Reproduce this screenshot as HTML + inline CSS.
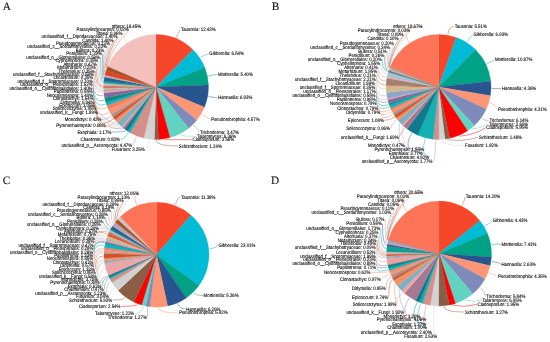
<!DOCTYPE html>
<html><head><meta charset="utf-8"><title>Pie charts</title>
<style>html,body{margin:0;padding:0;background:#fff;overflow:hidden}svg{display:block}</style>
</head><body>
<svg width="550" height="342" viewBox="0 0 550 342" font-family="'Liberation Sans', Arial, sans-serif" text-rendering="geometricPrecision">
<defs><filter id="tb" x="-5%" y="-20%" width="110%" height="140%"><feGaussianBlur stdDeviation="0.28"/></filter></defs>
<rect width="550" height="342" fill="#fff"/>
<g><path d="M156.00,87.00L156.00,34.50A52.5,52.5 0 0 1 192.96,49.72Z" fill="#F6472A" stroke="#F6472A" stroke-width="0.3"/><path d="M156.00,87.00L192.96,49.72A52.5,52.5 0 0 1 204.78,67.58Z" fill="#00BBD6" stroke="#00BBD6" stroke-width="0.3"/><path d="M156.00,87.00L204.78,67.58A52.5,52.5 0 0 1 208.46,84.93Z" fill="#00A185" stroke="#00A185" stroke-width="0.3"/><path d="M156.00,87.00L208.46,84.93A52.5,52.5 0 0 1 204.44,107.25Z" fill="#28548F" stroke="#28548F" stroke-width="0.3"/><path d="M156.00,87.00L204.44,107.25A52.5,52.5 0 0 1 196.72,120.14Z" fill="#FC9676" stroke="#FC9676" stroke-width="0.3"/><path d="M156.00,87.00L196.72,120.14A52.5,52.5 0 0 1 188.59,128.16Z" fill="#7E8ABA" stroke="#7E8ABA" stroke-width="0.3"/><path d="M156.00,87.00L188.59,128.16A52.5,52.5 0 0 1 170.01,137.60Z" fill="#62D3C0" stroke="#62D3C0" stroke-width="0.3"/><path d="M156.00,87.00L170.01,137.60A52.5,52.5 0 0 1 158.43,139.44Z" fill="#FA0303" stroke="#FA0303" stroke-width="0.3"/><path d="M156.00,87.00L158.43,139.44A52.5,52.5 0 0 1 154.34,139.47Z" fill="#8A5D44" stroke="#8A5D44" stroke-width="0.3"/><path d="M156.00,87.00L154.34,139.47A52.5,52.5 0 0 1 143.74,138.05Z" fill="#D2D2D2" stroke="#D2D2D2" stroke-width="0.3"/><path d="M156.00,87.00L143.74,138.05A52.5,52.5 0 0 1 130.07,132.65Z" fill="#D48F8A" stroke="#D48F8A" stroke-width="0.3"/><path d="M156.00,87.00L130.07,132.65A52.5,52.5 0 0 1 127.72,131.23Z" fill="#14B1B3" stroke="#14B1B3" stroke-width="0.3"/><path d="M156.00,87.00L127.72,131.23A52.5,52.5 0 0 1 124.55,129.04Z" fill="#10798B" stroke="#10798B" stroke-width="0.3"/><path d="M156.00,87.00L124.55,129.04A52.5,52.5 0 0 1 122.78,127.66Z" fill="#A67891" stroke="#A67891" stroke-width="0.3"/><path d="M156.00,87.00L122.78,127.66A52.5,52.5 0 0 1 121.72,126.77Z" fill="#EBA7A7" stroke="#EBA7A7" stroke-width="0.3"/><path d="M156.00,87.00L121.72,126.77A52.5,52.5 0 0 1 117.25,122.42Z" fill="#7EB0C3" stroke="#7EB0C3" stroke-width="0.3"/><path d="M156.00,87.00L117.25,122.42A52.5,52.5 0 0 1 115.00,119.79Z" fill="#EF936A" stroke="#EF936A" stroke-width="0.3"/><path d="M156.00,87.00L115.00,119.79A52.5,52.5 0 0 1 112.92,117.00Z" fill="#D4502A" stroke="#D4502A" stroke-width="0.3"/><path d="M156.00,87.00L112.92,117.00A52.5,52.5 0 0 1 111.23,114.42Z" fill="#A89189" stroke="#A89189" stroke-width="0.3"/><path d="M156.00,87.00L111.23,114.42A52.5,52.5 0 0 1 108.65,109.67Z" fill="#F59478" stroke="#F59478" stroke-width="0.3"/><path d="M156.00,87.00L108.65,109.67A52.5,52.5 0 0 1 106.83,105.41Z" fill="#F5805F" stroke="#F5805F" stroke-width="0.3"/><path d="M156.00,87.00L106.83,105.41A52.5,52.5 0 0 1 105.84,102.49Z" fill="#14B0C0" stroke="#14B0C0" stroke-width="0.3"/><path d="M156.00,87.00L105.84,102.49A52.5,52.5 0 0 1 104.67,98.01Z" fill="#0D8C80" stroke="#0D8C80" stroke-width="0.3"/><path d="M156.00,87.00L104.67,98.01A52.5,52.5 0 0 1 103.85,93.06Z" fill="#7E6AA0" stroke="#7E6AA0" stroke-width="0.3"/><path d="M156.00,87.00L103.85,93.06A52.5,52.5 0 0 1 103.63,90.75Z" fill="#E9A2A2" stroke="#E9A2A2" stroke-width="0.3"/><path d="M156.00,87.00L103.63,90.75A52.5,52.5 0 0 1 103.56,89.60Z" fill="#90A8C8" stroke="#90A8C8" stroke-width="0.3"/><path d="M156.00,87.00L103.56,89.60A52.5,52.5 0 0 1 103.50,87.67Z" fill="#D0B890" stroke="#D0B890" stroke-width="0.3"/><path d="M156.00,87.00L103.50,87.67A52.5,52.5 0 0 1 103.50,86.51Z" fill="#E8502A" stroke="#E8502A" stroke-width="0.3"/><path d="M156.00,87.00L103.50,86.51A52.5,52.5 0 0 1 103.52,85.74Z" fill="#A08070" stroke="#A08070" stroke-width="0.3"/><path d="M156.00,87.00L103.52,85.74A52.5,52.5 0 0 1 103.58,84.19Z" fill="#E8A0A0" stroke="#E8A0A0" stroke-width="0.3"/><path d="M156.00,87.00L103.58,84.19A52.5,52.5 0 0 1 103.65,83.04Z" fill="#A8C0D0" stroke="#A8C0D0" stroke-width="0.3"/><path d="M156.00,87.00L103.65,83.04A52.5,52.5 0 0 1 103.83,81.12Z" fill="#10A090" stroke="#10A090" stroke-width="0.3"/><path d="M156.00,87.00L103.83,81.12A52.5,52.5 0 0 1 104.48,76.92Z" fill="#1E6496" stroke="#1E6496" stroke-width="0.3"/><path d="M156.00,87.00L104.48,76.92A52.5,52.5 0 0 1 104.63,76.17Z" fill="#F8977D" stroke="#F8977D" stroke-width="0.3"/><path d="M156.00,87.00L104.63,76.17A52.5,52.5 0 0 1 104.79,75.41Z" fill="#A8A0C8" stroke="#A8A0C8" stroke-width="0.3"/><path d="M156.00,87.00L104.79,75.41A52.5,52.5 0 0 1 104.88,75.04Z" fill="#7DD6C4" stroke="#7DD6C4" stroke-width="0.3"/><path d="M156.00,87.00L104.88,75.04A52.5,52.5 0 0 1 106.13,70.58Z" fill="#E8401F" stroke="#E8401F" stroke-width="0.3"/><path d="M156.00,87.00L106.13,70.58A52.5,52.5 0 0 1 107.78,66.25Z" fill="#A0522D" stroke="#A0522D" stroke-width="0.3"/><path d="M156.00,87.00L107.78,66.25A52.5,52.5 0 0 1 107.85,66.07Z" fill="#CCC4BC" stroke="#CCC4BC" stroke-width="0.3"/><path d="M156.00,87.00L107.85,66.07A52.5,52.5 0 0 1 107.88,66.00Z" fill="#FD7459" stroke="#FD7459" stroke-width="0.3"/><path d="M156.00,87.00L107.88,66.00A52.5,52.5 0 0 1 156.00,34.50Z" fill="#F3C0BC" stroke="#F3C0BC" stroke-width="0.3"/></g><g fill="none" stroke-width="0.55" stroke-opacity="0.9"><path d="M180.30,29.85Q179.53,29.85 176.33,37.62" stroke="#F6472A"/><path d="M208.60,53.95Q205.98,53.95 200.54,57.54" stroke="#00BBD6"/><path d="M217.20,74.45Q215.12,74.45 208.24,75.91" stroke="#00A185"/><path d="M217.30,97.85Q216.24,97.85 208.55,96.47" stroke="#28548F"/><path d="M210.30,119.05Q209.53,119.05 201.82,114.43" stroke="#FC9676"/><path d="M199.30,132.05Q199.30,130.88 193.51,125.01" stroke="#7E8ABA"/><path d="M196.30,136.35Q181.06,136.35 180.18,134.61" stroke="#62D3C0"/><path d="M191.90,139.75Q164.42,139.75 164.41,139.73" stroke="#FA0303"/><path d="M178.10,146.05Q156.44,146.05 156.40,140.40" stroke="#8A5D44"/><path d="M145.20,149.45Q147.60,149.45 148.88,139.92" stroke="#D2D2D2"/><path d="M132.85,145.85Q132.85,145.61 136.38,136.67" stroke="#D48F8A"/><path d="M120.61,139.25Q124.49,139.25 128.42,132.73" stroke="#14B1B3"/><path d="M111.95,132.05Q124.81,132.05 125.60,130.91" stroke="#10798B"/><path d="M106.32,125.65Q114.30,129.37 123.11,129.07" stroke="#A67891"/><path d="M102.12,119.45Q110.88,126.02 121.67,127.90" stroke="#EBA7A7"/><path d="M98.48,112.35Q107.08,121.27 118.80,125.31" stroke="#7EB0C3"/><path d="M97.10,108.91Q97.10,137.38 115.42,121.71" stroke="#EF936A"/><path d="M95.94,105.46Q95.94,131.84 113.21,118.95" stroke="#D4502A"/><path d="M95.00,102.02Q95.00,126.87 111.30,116.22" stroke="#A89189"/><path d="M94.26,98.57Q94.26,120.57 109.09,112.51" stroke="#F59478"/><path d="M93.72,95.13Q93.72,113.51 106.87,107.91" stroke="#F5805F"/><path d="M93.37,91.69Q93.37,108.37 105.46,104.25" stroke="#14B0C0"/><path d="M93.21,88.24Q93.21,103.39 104.33,100.49" stroke="#0D8C80"/><path d="M93.24,84.80Q93.24,97.35 103.31,95.69" stroke="#7E6AA0"/><path d="M93.45,81.35Q93.45,92.87 102.83,91.99" stroke="#E9A2A2"/><path d="M93.85,77.91Q93.85,90.76 102.70,90.23" stroke="#90A8C8"/><path d="M94.45,74.47Q94.45,88.91 102.63,88.66" stroke="#D0B890"/><path d="M95.24,71.02Q95.24,87.10 102.60,87.09" stroke="#E8502A"/><path d="M96.24,67.58Q96.24,86.00 102.61,86.11" stroke="#A08070"/><path d="M97.46,64.13Q97.46,84.73 102.64,84.93" stroke="#E8A0A0"/><path d="M98.91,60.69Q98.91,83.31 102.71,83.56" stroke="#A8C0D0"/><path d="M100.60,57.25Q100.60,81.78 102.84,81.99" stroke="#10A090"/><path d="M102.57,53.80Q102.57,78.78 103.22,78.88" stroke="#1E6496"/><path d="M104.84,50.36Q101.13,63.22 103.67,76.36" stroke="#F8977D"/><path d="M107.45,46.91Q102.20,60.82 103.83,75.60" stroke="#A8A0C8"/><path d="M110.47,43.47Q103.43,58.47 103.96,75.02" stroke="#7DD6C4"/><path d="M113.97,40.03Q105.38,55.16 104.59,72.55" stroke="#E8401F"/><path d="M118.10,36.58Q108.30,50.89 106.07,68.08" stroke="#A0522D"/><path d="M123.07,33.14Q111.11,47.54 106.99,65.80" stroke="#CCC4BC"/><path d="M129.35,29.69Q113.88,45.01 107.04,65.68" stroke="#FD7459"/><path d="M141.70,26.25Q116.23,26.25 126.75,42.32" stroke="#F3C0BC"/></g><g filter="url(#tb)"><g transform="scale(1,1.15)" font-size="4.35" fill="#000" stroke="#000" stroke-width="0.09"><text x="181.00" y="27.304" text-anchor="start">Tausonia: 12.43%</text><text x="209.30" y="48.261" text-anchor="start">Gibberella: 6.54%</text><text x="217.90" y="66.087" text-anchor="start">Mortierella: 5.40%</text><text x="218.00" y="86.435" text-anchor="start">Hannaella: 6.93%</text><text x="211.00" y="104.870" text-anchor="start">Pseudombrophila: 4.57%</text><text x="200.00" y="116.174" text-anchor="start">Trichoderma: 3.47%</text><text x="197.00" y="119.913" text-anchor="start">Talaromyces: 6.36%</text><text x="192.60" y="122.870" text-anchor="start">Cladosporium: 3.56%</text><text x="178.80" y="128.348" text-anchor="start">Schizothecium: 1.24%</text><text x="144.50" y="131.304" text-anchor="end">Fusarium: 3.25%</text><text x="132.15" y="128.174" text-anchor="end">unclassified_p__Ascomycota: 4.47%</text><text x="119.91" y="122.435" text-anchor="end">Chaetomium: 0.83%</text><text x="111.25" y="116.174" text-anchor="end">Exophiala: 1.17%</text><text x="105.62" y="110.609" text-anchor="end">Pyrenochaetopsis: 0.68%</text><text x="101.42" y="105.217" text-anchor="end">Monodictys: 0.42%</text><text x="97.78" y="99.043" text-anchor="end">unclassified_k__Fungi: 1.89%</text><text x="96.40" y="96.049" text-anchor="end">Solicoccozyma: 1.05%</text><text x="95.24" y="93.054" text-anchor="end">Epicoccum: 1.05%</text><text x="94.30" y="90.059" text-anchor="end">Didymella: 0.94%</text><text x="93.56" y="87.064" text-anchor="end">Clonostachys: 1.64%</text><text x="93.02" y="84.070" text-anchor="end">Neocosmospora: 1.40%</text><text x="92.67" y="81.075" text-anchor="end">Papiliotrema: 0.94%</text><text x="92.51" y="78.080" text-anchor="end">unclassified_o__Cystofilobasidiales: 1.40%</text><text x="92.54" y="75.085" text-anchor="end">unclassified_o__Pleosporales: 1.52%</text><text x="92.75" y="72.090" text-anchor="end">unclassified_f__Sporormiaceae: 0.70%</text><text x="93.15" y="69.096" text-anchor="end">Lecanicillium: 0.35%</text><text x="93.75" y="66.101" text-anchor="end">unclassified_f__Stachybotryaceae: 0.58%</text><text x="94.54" y="63.106" text-anchor="end">Thelebolus: 0.35%</text><text x="95.54" y="60.111" text-anchor="end">Metarhizium: 0.23%</text><text x="96.76" y="57.117" text-anchor="end">Alternaria: 0.47%</text><text x="98.21" y="54.122" text-anchor="end">Cyphellophora: 0.35%</text><text x="99.90" y="51.127" text-anchor="end">unclassified_o__Glomerellales: 0.58%</text><text x="101.87" y="48.132" text-anchor="end">Penicillium: 1.29%</text><text x="104.14" y="45.137" text-anchor="end">Bullera: 0.23%</text><text x="106.75" y="42.143" text-anchor="end">unclassified_c__Sordariomycetes: 0.23%</text><text x="109.77" y="39.148" text-anchor="end">Pseudogymnoascus: 0.12%</text><text x="113.27" y="36.153" text-anchor="end">Candida: 1.40%</text><text x="117.40" y="33.158" text-anchor="end">unclassified_f__Dipodascaceae: 1.40%</text><text x="122.37" y="30.163" text-anchor="end">Titaea: 0.06%</text><text x="128.65" y="27.169" text-anchor="end">Paracylindrocarpon: 0.02%</text><text x="141.00" y="24.174" text-anchor="end">others: 18.45%</text></g></g><g><path d="M438.60,87.00L438.60,34.50A52.5,52.5 0 0 1 456.39,37.61Z" fill="#F6472A" stroke="#F6472A" stroke-width="0.3"/><path d="M438.60,87.00L456.39,37.61A52.5,52.5 0 0 1 475.55,49.70Z" fill="#00BBD6" stroke="#00BBD6" stroke-width="0.3"/><path d="M438.60,87.00L475.55,49.70A52.5,52.5 0 0 1 490.79,81.34Z" fill="#00A185" stroke="#00A185" stroke-width="0.3"/><path d="M438.60,87.00L490.79,81.34A52.5,52.5 0 0 1 490.38,95.66Z" fill="#28548F" stroke="#28548F" stroke-width="0.3"/><path d="M438.60,87.00L490.38,95.66A52.5,52.5 0 0 1 486.19,109.18Z" fill="#FC9676" stroke="#FC9676" stroke-width="0.3"/><path d="M438.60,87.00L486.19,109.18A52.5,52.5 0 0 1 474.36,125.44Z" fill="#7E8ABA" stroke="#7E8ABA" stroke-width="0.3"/><path d="M438.60,87.00L474.36,125.44A52.5,52.5 0 0 1 467.64,130.74Z" fill="#62D3C0" stroke="#62D3C0" stroke-width="0.3"/><path d="M438.60,87.00L467.64,130.74A52.5,52.5 0 0 1 449.69,138.32Z" fill="#FA0303" stroke="#FA0303" stroke-width="0.3"/><path d="M438.60,87.00L449.69,138.32A52.5,52.5 0 0 1 444.88,139.12Z" fill="#8A5D44" stroke="#8A5D44" stroke-width="0.3"/><path d="M438.60,87.00L444.88,139.12A52.5,52.5 0 0 1 438.90,139.50Z" fill="#D2D2D2" stroke="#D2D2D2" stroke-width="0.3"/><path d="M438.60,87.00L438.90,139.50A52.5,52.5 0 0 1 433.08,139.21Z" fill="#D48F8A" stroke="#D48F8A" stroke-width="0.3"/><path d="M438.60,87.00L433.08,139.21A52.5,52.5 0 0 1 417.77,135.19Z" fill="#14B1B3" stroke="#14B1B3" stroke-width="0.3"/><path d="M438.60,87.00L417.77,135.19A52.5,52.5 0 0 1 407.06,128.97Z" fill="#10798B" stroke="#10798B" stroke-width="0.3"/><path d="M438.60,87.00L407.06,128.97A52.5,52.5 0 0 1 403.13,125.71Z" fill="#A67891" stroke="#A67891" stroke-width="0.3"/><path d="M438.60,87.00L403.13,125.71A52.5,52.5 0 0 1 402.00,124.64Z" fill="#EBA7A7" stroke="#EBA7A7" stroke-width="0.3"/><path d="M438.60,87.00L402.00,124.64A52.5,52.5 0 0 1 398.23,120.56Z" fill="#7EB0C3" stroke="#7EB0C3" stroke-width="0.3"/><path d="M438.60,87.00L398.23,120.56A52.5,52.5 0 0 1 396.28,118.07Z" fill="#EF936A" stroke="#EF936A" stroke-width="0.3"/><path d="M438.60,87.00L396.28,118.07A52.5,52.5 0 0 1 394.27,115.13Z" fill="#D4502A" stroke="#D4502A" stroke-width="0.3"/><path d="M438.60,87.00L394.27,115.13A52.5,52.5 0 0 1 392.93,112.90Z" fill="#A89189" stroke="#A89189" stroke-width="0.3"/><path d="M438.60,87.00L392.93,112.90A52.5,52.5 0 0 1 391.70,110.60Z" fill="#F59478" stroke="#F59478" stroke-width="0.3"/><path d="M438.60,87.00L391.70,110.60A52.5,52.5 0 0 1 390.59,108.25Z" fill="#F5805F" stroke="#F5805F" stroke-width="0.3"/><path d="M438.60,87.00L390.59,108.25A52.5,52.5 0 0 1 389.38,105.26Z" fill="#14B0C0" stroke="#14B0C0" stroke-width="0.3"/><path d="M438.60,87.00L389.38,105.26A52.5,52.5 0 0 1 388.78,103.55Z" fill="#0D8C80" stroke="#0D8C80" stroke-width="0.3"/><path d="M438.60,87.00L388.78,103.55A52.5,52.5 0 0 1 387.70,99.85Z" fill="#7E6AA0" stroke="#7E6AA0" stroke-width="0.3"/><path d="M438.60,87.00L387.70,99.85A52.5,52.5 0 0 1 387.43,98.73Z" fill="#E9A2A2" stroke="#E9A2A2" stroke-width="0.3"/><path d="M438.60,87.00L387.43,98.73A52.5,52.5 0 0 1 386.40,92.59Z" fill="#90A8C8" stroke="#90A8C8" stroke-width="0.3"/><path d="M438.60,87.00L386.40,92.59A52.5,52.5 0 0 1 386.13,85.32Z" fill="#D0B890" stroke="#D0B890" stroke-width="0.3"/><path d="M438.60,87.00L386.13,85.32A52.5,52.5 0 0 1 386.15,84.63Z" fill="#E8502A" stroke="#E8502A" stroke-width="0.3"/><path d="M438.60,87.00L386.15,84.63A52.5,52.5 0 0 1 386.84,78.24Z" fill="#A08070" stroke="#A08070" stroke-width="0.3"/><path d="M438.60,87.00L386.84,78.24A52.5,52.5 0 0 1 387.08,76.92Z" fill="#E8A0A0" stroke="#E8A0A0" stroke-width="0.3"/><path d="M438.60,87.00L387.08,76.92A52.5,52.5 0 0 1 388.30,71.96Z" fill="#A8C0D0" stroke="#A8C0D0" stroke-width="0.3"/><path d="M438.60,87.00L388.30,71.96A52.5,52.5 0 0 1 388.49,71.33Z" fill="#10A090" stroke="#10A090" stroke-width="0.3"/><path d="M438.60,87.00L388.49,71.33A52.5,52.5 0 0 1 388.76,70.51Z" fill="#1E6496" stroke="#1E6496" stroke-width="0.3"/><path d="M438.60,87.00L388.76,70.51A52.5,52.5 0 0 1 389.31,68.93Z" fill="#F8977D" stroke="#F8977D" stroke-width="0.3"/><path d="M438.60,87.00L389.31,68.93A52.5,52.5 0 0 1 389.71,67.88Z" fill="#A8A0C8" stroke="#A8A0C8" stroke-width="0.3"/><path d="M438.60,87.00L389.71,67.88A52.5,52.5 0 0 1 389.95,67.27Z" fill="#7DD6C4" stroke="#7DD6C4" stroke-width="0.3"/><path d="M438.60,87.00L389.95,67.27A52.5,52.5 0 0 1 390.07,66.96Z" fill="#E8401F" stroke="#E8401F" stroke-width="0.3"/><path d="M438.60,87.00L390.07,66.96A52.5,52.5 0 0 1 390.19,66.69Z" fill="#A0522D" stroke="#A0522D" stroke-width="0.3"/><path d="M438.60,87.00L390.19,66.69A52.5,52.5 0 0 1 390.23,66.60Z" fill="#CCC4BC" stroke="#CCC4BC" stroke-width="0.3"/><path d="M438.60,87.00L390.23,66.60A52.5,52.5 0 0 1 438.60,34.50Z" fill="#FD7459" stroke="#FD7459" stroke-width="0.3"/></g><g fill="none" stroke-width="0.55" stroke-opacity="0.9"><path d="M454.00,26.45Q449.17,26.45 447.79,34.40" stroke="#F6472A"/><path d="M472.70,34.85Q471.53,34.85 467.11,41.85" stroke="#00BBD6"/><path d="M494.20,59.65Q494.20,60.21 486.71,63.82" stroke="#00A185"/><path d="M501.20,88.35Q501.20,88.81 491.98,88.54" stroke="#28548F"/><path d="M497.30,109.25Q497.30,105.22 489.60,102.83" stroke="#FC9676"/><path d="M488.70,120.65Q484.87,120.65 481.79,118.41" stroke="#7E8ABA"/><path d="M488.30,124.15Q480.56,128.54 471.67,128.93" stroke="#62D3C0"/><path d="M485.60,127.85Q473.49,135.17 459.37,136.20" stroke="#FA0303"/><path d="M478.30,137.05Q463.18,142.06 447.44,139.66" stroke="#8A5D44"/><path d="M464.30,145.75Q442.29,145.75 441.95,140.29" stroke="#D2D2D2"/><path d="M433.10,161.45Q434.88,161.45 435.94,140.33" stroke="#D48F8A"/><path d="M429.70,157.05Q420.21,157.05 425.04,138.65" stroke="#14B1B3"/><path d="M423.30,153.05Q400.24,153.05 411.78,133.18" stroke="#10798B"/><path d="M424.40,149.45Q386.73,149.45 404.48,128.08" stroke="#A67891"/><path d="M405.40,145.05Q401.37,135.86 401.95,125.83" stroke="#EBA7A7"/><path d="M399.20,137.15Q399.20,123.45 399.40,123.26" stroke="#7EB0C3"/><path d="M390.60,128.85Q390.60,124.51 396.52,119.88" stroke="#EF936A"/><path d="M384.50,120.35Q389.78,120.35 394.51,117.12" stroke="#D4502A"/><path d="M380.70,112.45Q380.70,121.76 392.82,114.48" stroke="#A89189"/><path d="M378.70,108.15Q378.70,119.03 391.51,112.18" stroke="#F59478"/><path d="M377.10,103.95Q377.10,116.07 390.32,109.82" stroke="#F5805F"/><path d="M376.20,99.75Q376.20,112.36 389.13,107.10" stroke="#14B0C0"/><path d="M376.20,95.95Q376.20,108.93 388.22,104.70" stroke="#0D8C80"/><path d="M376.20,91.85Q376.20,105.21 387.34,101.96" stroke="#7E6AA0"/><path d="M375.70,87.75Q375.70,102.14 386.68,99.50" stroke="#E9A2A2"/><path d="M375.70,83.65Q375.70,97.54 385.93,95.82" stroke="#90A8C8"/><path d="M376.30,79.55Q376.30,89.33 385.24,88.99" stroke="#D0B890"/><path d="M376.30,75.25Q376.30,84.59 385.24,84.94" stroke="#E8502A"/><path d="M377.70,71.35Q377.70,80.50 385.50,81.33" stroke="#A08070"/><path d="M378.40,67.25Q378.40,76.02 386.07,77.42" stroke="#E8A0A0"/><path d="M380.70,63.15Q380.70,72.71 386.76,74.21" stroke="#A8C0D0"/><path d="M382.20,59.05Q382.20,69.75 387.54,71.38" stroke="#10A090"/><path d="M384.70,55.05Q384.70,69.66 387.77,70.65" stroke="#1E6496"/><path d="M387.30,51.15Q387.30,69.12 388.18,69.42" stroke="#F8977D"/><path d="M390.50,47.35Q387.09,57.50 388.66,68.08" stroke="#A8A0C8"/><path d="M394.30,43.15Q388.75,54.56 388.99,67.24" stroke="#7DD6C4"/><path d="M399.10,38.55Q390.75,51.47 389.18,66.77" stroke="#E8401F"/><path d="M404.20,34.65Q392.93,48.78 389.30,66.48" stroke="#A0522D"/><path d="M410.70,30.55Q395.75,45.86 389.38,66.29" stroke="#CCC4BC"/><path d="M423.00,26.65Q398.56,26.65 409.08,42.50" stroke="#FD7459"/></g><g filter="url(#tb)"><g transform="scale(1,1.15)" font-size="4.35" fill="#000" stroke="#000" stroke-width="0.09"><text x="454.70" y="24.348" text-anchor="start">Tausonia: 5.51%</text><text x="473.40" y="31.652" text-anchor="start">Gibberella: 6.93%</text><text x="494.90" y="53.217" text-anchor="start">Mortierella: 10.87%</text><text x="501.90" y="78.174" text-anchor="start">Hannaella: 4.36%</text><text x="498.00" y="96.348" text-anchor="start">Pseudombrophila: 4.31%</text><text x="489.40" y="106.261" text-anchor="start">Trichoderma: 6.14%</text><text x="489.00" y="109.304" text-anchor="start">Talaromyces: 2.60%</text><text x="486.30" y="112.522" text-anchor="start">Cladosporium: 5.95%</text><text x="479.00" y="120.522" text-anchor="start">Schizothecium: 1.48%</text><text x="465.00" y="128.087" text-anchor="start">Fusarium: 1.82%</text><text x="432.40" y="141.739" text-anchor="end">unclassified_p__Ascomycota: 1.77%</text><text x="429.00" y="137.913" text-anchor="end">Chaetomium: 4.82%</text><text x="422.60" y="134.435" text-anchor="end">Exophiala: 3.77%</text><text x="423.70" y="131.304" text-anchor="end">Pyrenochaetopsis: 1.55%</text><text x="404.70" y="127.478" text-anchor="end">Monodictys: 0.47%</text><text x="398.50" y="120.609" text-anchor="end">unclassified_k__Fungi: 1.69%</text><text x="389.90" y="113.391" text-anchor="end">Solicoccozyma: 0.96%</text><text x="383.80" y="106.000" text-anchor="end">Epicoccum: 1.08%</text><text x="380.00" y="99.130" text-anchor="end">Didymella: 0.79%</text><text x="378.00" y="95.391" text-anchor="end">Clonostachys: 0.79%</text><text x="376.40" y="91.739" text-anchor="end">Neocosmospora: 0.79%</text><text x="375.50" y="88.087" text-anchor="end">Papiliotrema: 0.98%</text><text x="375.50" y="84.783" text-anchor="end">unclassified_o__Cystofilobasidiales: 0.55%</text><text x="375.50" y="81.217" text-anchor="end">unclassified_o__Pleosporales: 1.17%</text><text x="375.00" y="77.652" text-anchor="end">unclassified_f__Sporormiaceae: 0.35%</text><text x="375.00" y="74.087" text-anchor="end">Lecanicillium: 1.89%</text><text x="375.60" y="70.522" text-anchor="end">unclassified_f__Stachybotryaceae: 2.21%</text><text x="375.60" y="66.783" text-anchor="end">Thelebolus: 0.21%</text><text x="377.00" y="63.391" text-anchor="end">Metarhizium: 1.95%</text><text x="377.70" y="59.826" text-anchor="end">Alternaria: 0.41%</text><text x="380.00" y="56.261" text-anchor="end">Cyphellophora: 1.55%</text><text x="381.50" y="52.696" text-anchor="end">unclassified_o__Glomerellales: 0.20%</text><text x="384.00" y="49.217" text-anchor="end">Penicillium: 0.26%</text><text x="386.60" y="45.826" text-anchor="end">Bullera: 0.51%</text><text x="389.80" y="42.522" text-anchor="end">unclassified_c__Sordariomycetes: 0.34%</text><text x="393.60" y="38.870" text-anchor="end">Pseudogymnoascus: 0.20%</text><text x="398.40" y="34.870" text-anchor="end">Candida: 0.10%</text><text x="403.50" y="31.478" text-anchor="end">Titaea: 0.09%</text><text x="410.00" y="27.913" text-anchor="end">Paracylindrocarpon: 0.03%</text><text x="422.30" y="24.522" text-anchor="end">others: 18.67%</text></g></g><g><path d="M156.50,254.70L156.50,202.20A52.5,52.5 0 0 1 191.02,215.15Z" fill="#F6472A" stroke="#F6472A" stroke-width="0.3"/><path d="M156.50,254.70L191.02,215.15A52.5,52.5 0 0 1 198.97,285.57Z" fill="#00BBD6" stroke="#00BBD6" stroke-width="0.3"/><path d="M156.50,254.70L198.97,285.57A52.5,52.5 0 0 1 186.33,297.90Z" fill="#00A185" stroke="#00A185" stroke-width="0.3"/><path d="M156.50,254.70L186.33,297.90A52.5,52.5 0 0 1 167.62,306.01Z" fill="#28548F" stroke="#28548F" stroke-width="0.3"/><path d="M156.50,254.70L167.62,306.01A52.5,52.5 0 0 1 149.78,306.77Z" fill="#FC9676" stroke="#FC9676" stroke-width="0.3"/><path d="M156.50,254.70L149.78,306.77A52.5,52.5 0 0 1 145.64,306.06Z" fill="#7E8ABA" stroke="#7E8ABA" stroke-width="0.3"/><path d="M156.50,254.70L145.64,306.06A52.5,52.5 0 0 1 141.72,305.08Z" fill="#62D3C0" stroke="#62D3C0" stroke-width="0.3"/><path d="M156.50,254.70L141.72,305.08A52.5,52.5 0 0 1 133.88,302.08Z" fill="#FA0303" stroke="#FA0303" stroke-width="0.3"/><path d="M156.50,254.70L133.88,302.08A52.5,52.5 0 0 1 118.14,290.54Z" fill="#8A5D44" stroke="#8A5D44" stroke-width="0.3"/><path d="M156.50,254.70L118.14,290.54A52.5,52.5 0 0 1 112.01,282.58Z" fill="#D2D2D2" stroke="#D2D2D2" stroke-width="0.3"/><path d="M156.50,254.70L112.01,282.58A52.5,52.5 0 0 1 109.99,279.05Z" fill="#D48F8A" stroke="#D48F8A" stroke-width="0.3"/><path d="M156.50,254.70L109.99,279.05A52.5,52.5 0 0 1 109.29,277.66Z" fill="#14B1B3" stroke="#14B1B3" stroke-width="0.3"/><path d="M156.50,254.70L109.29,277.66A52.5,52.5 0 0 1 108.42,275.79Z" fill="#10798B" stroke="#10798B" stroke-width="0.3"/><path d="M156.50,254.70L108.42,275.79A52.5,52.5 0 0 1 108.06,274.94Z" fill="#A67891" stroke="#A67891" stroke-width="0.3"/><path d="M156.50,254.70L108.06,274.94A52.5,52.5 0 0 1 104.69,263.19Z" fill="#EBA7A7" stroke="#EBA7A7" stroke-width="0.3"/><path d="M156.50,254.70L104.69,263.19A52.5,52.5 0 0 1 104.42,261.29Z" fill="#7EB0C3" stroke="#7EB0C3" stroke-width="0.3"/><path d="M156.50,254.70L104.42,261.29A52.5,52.5 0 0 1 104.11,258.16Z" fill="#EF936A" stroke="#EF936A" stroke-width="0.3"/><path d="M156.50,254.70L104.11,258.16A52.5,52.5 0 0 1 104.01,253.76Z" fill="#D4502A" stroke="#D4502A" stroke-width="0.3"/><path d="M156.50,254.70L104.01,253.76A52.5,52.5 0 0 1 104.08,251.88Z" fill="#A89189" stroke="#A89189" stroke-width="0.3"/><path d="M156.50,254.70L104.08,251.88A52.5,52.5 0 0 1 104.18,250.33Z" fill="#F59478" stroke="#F59478" stroke-width="0.3"/><path d="M156.50,254.70L104.18,250.33A52.5,52.5 0 0 1 104.49,247.53Z" fill="#F5805F" stroke="#F5805F" stroke-width="0.3"/><path d="M156.50,254.70L104.49,247.53A52.5,52.5 0 0 1 105.28,243.20Z" fill="#14B0C0" stroke="#14B0C0" stroke-width="0.3"/><path d="M156.50,254.70L105.28,243.20A52.5,52.5 0 0 1 105.49,242.30Z" fill="#0D8C80" stroke="#0D8C80" stroke-width="0.3"/><path d="M156.50,254.70L105.49,242.30A52.5,52.5 0 0 1 105.71,241.40Z" fill="#7E6AA0" stroke="#7E6AA0" stroke-width="0.3"/><path d="M156.50,254.70L105.71,241.40A52.5,52.5 0 0 1 106.13,239.90Z" fill="#E9A2A2" stroke="#E9A2A2" stroke-width="0.3"/><path d="M156.50,254.70L106.13,239.90A52.5,52.5 0 0 1 106.50,238.70Z" fill="#90A8C8" stroke="#90A8C8" stroke-width="0.3"/><path d="M156.50,254.70L106.50,238.70A52.5,52.5 0 0 1 107.55,235.73Z" fill="#D0B890" stroke="#D0B890" stroke-width="0.3"/><path d="M156.50,254.70L107.55,235.73A52.5,52.5 0 0 1 108.51,233.41Z" fill="#E8502A" stroke="#E8502A" stroke-width="0.3"/><path d="M156.50,254.70L108.51,233.41A52.5,52.5 0 0 1 109.31,231.70Z" fill="#A08070" stroke="#A08070" stroke-width="0.3"/><path d="M156.50,254.70L109.31,231.70A52.5,52.5 0 0 1 109.72,230.87Z" fill="#E8A0A0" stroke="#E8A0A0" stroke-width="0.3"/><path d="M156.50,254.70L109.72,230.87A52.5,52.5 0 0 1 110.15,230.05Z" fill="#A8C0D0" stroke="#A8C0D0" stroke-width="0.3"/><path d="M156.50,254.70L110.15,230.05A52.5,52.5 0 0 1 110.59,229.23Z" fill="#10A090" stroke="#10A090" stroke-width="0.3"/><path d="M156.50,254.70L110.59,229.23A52.5,52.5 0 0 1 112.54,226.00Z" fill="#1E6496" stroke="#1E6496" stroke-width="0.3"/><path d="M156.50,254.70L112.54,226.00A52.5,52.5 0 0 1 113.05,225.23Z" fill="#F8977D" stroke="#F8977D" stroke-width="0.3"/><path d="M156.50,254.70L113.05,225.23A52.5,52.5 0 0 1 114.69,222.94Z" fill="#A8A0C8" stroke="#A8A0C8" stroke-width="0.3"/><path d="M156.50,254.70L114.69,222.94A52.5,52.5 0 0 1 115.08,222.45Z" fill="#7DD6C4" stroke="#7DD6C4" stroke-width="0.3"/><path d="M156.50,254.70L115.08,222.45A52.5,52.5 0 0 1 115.65,221.72Z" fill="#E8401F" stroke="#E8401F" stroke-width="0.3"/><path d="M156.50,254.70L115.65,221.72A52.5,52.5 0 0 1 117.70,219.33Z" fill="#A0522D" stroke="#A0522D" stroke-width="0.3"/><path d="M156.50,254.70L117.70,219.33A52.5,52.5 0 0 1 120.32,216.66Z" fill="#CCC4BC" stroke="#CCC4BC" stroke-width="0.3"/><path d="M156.50,254.70L120.32,216.66A52.5,52.5 0 0 1 156.50,202.20Z" fill="#FD7459" stroke="#FD7459" stroke-width="0.3"/></g><g fill="none" stroke-width="0.55" stroke-opacity="0.9"><path d="M180.50,197.25Q178.04,197.25 175.25,204.70" stroke="#F6472A"/><path d="M217.70,245.15Q217.70,247.79 209.56,248.71" stroke="#00BBD6"/><path d="M202.90,295.45Q196.28,295.45 193.80,292.91" stroke="#00A185"/><path d="M185.30,308.95Q180.01,308.95 177.73,303.70" stroke="#28548F"/><path d="M178.30,312.95Q158.98,312.95 158.77,308.05" stroke="#FC9676"/><path d="M147.50,317.25Q147.50,307.65 147.55,307.35" stroke="#7E8ABA"/><path d="M134.90,313.55Q141.67,313.55 143.45,306.48" stroke="#62D3C0"/><path d="M121.10,306.35Q136.74,306.35 137.42,304.57" stroke="#FA0303"/><path d="M112.75,300.05Q123.27,300.05 124.94,297.77" stroke="#8A5D44"/><path d="M109.50,296.62Q109.50,290.84 114.17,287.25" stroke="#D2D2D2"/><path d="M106.69,293.19Q106.69,283.28 110.18,281.28" stroke="#D48F8A"/><path d="M104.26,289.76Q104.26,281.07 108.83,278.76" stroke="#14B1B3"/><path d="M102.14,286.33Q102.14,279.83 108.03,277.11" stroke="#10798B"/><path d="M100.31,282.90Q100.31,278.77 107.41,275.72" stroke="#A67891"/><path d="M98.73,279.47Q98.73,271.26 105.17,269.41" stroke="#EBA7A7"/><path d="M97.39,276.04Q97.39,263.28 103.65,262.38" stroke="#7EB0C3"/><path d="M96.28,272.61Q96.28,260.50 103.35,259.82" stroke="#EF936A"/><path d="M95.37,269.18Q95.37,256.17 103.12,255.99" stroke="#D4502A"/><path d="M94.67,265.75Q94.67,252.49 103.13,252.79" stroke="#A89189"/><path d="M94.16,262.32Q94.16,250.42 103.23,251.04" stroke="#F59478"/><path d="M93.84,258.89Q93.84,247.77 103.42,248.83" stroke="#F5805F"/><path d="M93.70,255.46Q93.70,243.34 103.95,245.20" stroke="#14B0C0"/><path d="M93.76,252.03Q93.76,240.03 104.50,242.54" stroke="#0D8C80"/><path d="M93.99,248.60Q93.99,238.92 104.72,241.63" stroke="#7E6AA0"/><path d="M94.42,245.17Q94.42,237.45 105.05,240.41" stroke="#E9A2A2"/><path d="M95.04,241.74Q95.04,235.84 105.45,239.03" stroke="#90A8C8"/><path d="M95.85,238.31Q95.85,233.27 106.15,236.91" stroke="#D0B890"/><path d="M96.87,234.88Q96.87,229.94 107.18,234.22" stroke="#E8502A"/><path d="M98.11,231.45Q106.54,231.45 108.09,232.17" stroke="#A08070"/><path d="M99.58,228.02Q102.96,228.02 108.71,230.88" stroke="#E8A0A0"/><path d="M101.29,224.59Q101.29,225.96 109.13,230.04" stroke="#A8C0D0"/><path d="M103.28,221.16Q103.28,225.79 109.58,229.21" stroke="#10A090"/><path d="M105.57,217.73Q105.57,224.01 110.76,227.13" stroke="#1E6496"/><path d="M108.21,214.30Q108.21,222.56 112.04,225.12" stroke="#F8977D"/><path d="M111.25,210.87Q111.25,222.21 113.13,223.55" stroke="#A8A0C8"/><path d="M114.79,207.44Q112.71,214.72 114.17,222.15" stroke="#7DD6C4"/><path d="M118.95,204.01Q114.70,212.25 114.66,221.52" stroke="#E8401F"/><path d="M123.98,200.58Q117.66,209.29 115.98,219.93" stroke="#A0522D"/><path d="M130.36,197.15Q121.93,205.80 118.34,217.34" stroke="#CCC4BC"/><path d="M139.49,193.72Q132.13,193.72 136.68,205.11" stroke="#FD7459"/></g><g filter="url(#tb)"><g transform="scale(1,1.15)" font-size="4.35" fill="#000" stroke="#000" stroke-width="0.09"><text x="181.20" y="172.870" text-anchor="start">Tausonia: 11.38%</text><text x="218.40" y="214.522" text-anchor="start">Gibberella: 23.01%</text><text x="203.60" y="258.261" text-anchor="start">Mortierella: 5.36%</text><text x="186.00" y="270.000" text-anchor="start">Hannaella: 6.20%</text><text x="179.00" y="273.478" text-anchor="start">Pseudombrophila: 5.42%</text><text x="146.80" y="277.217" text-anchor="end">Trichoderma: 1.27%</text><text x="134.20" y="274.000" text-anchor="end">Talaromyces: 1.22%</text><text x="120.40" y="267.739" text-anchor="end">Cladosporium: 2.54%</text><text x="112.05" y="262.261" text-anchor="end">Schizothecium: 5.93%</text><text x="108.80" y="259.278" text-anchor="end">Fusarium: 3.04%</text><text x="105.99" y="256.296" text-anchor="end">unclassified_p__Ascomycota: 1.23%</text><text x="103.56" y="253.313" text-anchor="end">Chaetomium: 0.47%</text><text x="101.44" y="250.330" text-anchor="end">Exophiala: 0.62%</text><text x="99.61" y="247.348" text-anchor="end">Pyrenochaetopsis: 0.28%</text><text x="98.03" y="244.365" text-anchor="end">Monodictys: 3.70%</text><text x="96.69" y="241.383" text-anchor="end">unclassified_k__Fungi: 0.58%</text><text x="95.58" y="238.400" text-anchor="end">Solicoccozyma: 0.95%</text><text x="94.67" y="235.417" text-anchor="end">Epicoccum: 1.33%</text><text x="93.97" y="232.435" text-anchor="end">Didymella: 0.57%</text><text x="93.46" y="229.452" text-anchor="end">Clonostachys: 0.47%</text><text x="93.14" y="226.470" text-anchor="end">Neocosmospora: 0.85%</text><text x="93.00" y="223.487" text-anchor="end">Papiliotrema: 1.33%</text><text x="93.06" y="220.504" text-anchor="end">unclassified_o__Cystofilobasidiales: 0.28%</text><text x="93.29" y="217.522" text-anchor="end">unclassified_o__Pleosporales: 0.28%</text><text x="93.72" y="214.539" text-anchor="end">unclassified_f__Sporormiaceae: 0.47%</text><text x="94.34" y="211.557" text-anchor="end">Lecanicillium: 0.38%</text><text x="95.15" y="208.574" text-anchor="end">Thelebolus: 0.95%</text><text x="96.17" y="205.591" text-anchor="end">Metarhizium: 0.76%</text><text x="97.41" y="202.609" text-anchor="end">Alternaria: 0.57%</text><text x="98.88" y="199.626" text-anchor="end">Cyphellophora: 0.28%</text><text x="100.59" y="196.643" text-anchor="end">unclassified_o__Glomerellales: 0.28%</text><text x="102.58" y="193.661" text-anchor="end">Penicillium: 0.28%</text><text x="104.87" y="190.678" text-anchor="end">Bullera: 1.14%</text><text x="107.51" y="187.696" text-anchor="end">unclassified_c__Sordariomycetes: 0.28%</text><text x="110.55" y="184.713" text-anchor="end">Pseudogymnoascus: 0.85%</text><text x="114.09" y="181.730" text-anchor="end">Candida: 0.19%</text><text x="118.25" y="178.748" text-anchor="end">unclassified_f__Dipodascaceae: 0.28%</text><text x="123.28" y="175.765" text-anchor="end">Titaea: 0.95%</text><text x="129.66" y="172.783" text-anchor="end">Paracylindrocarpon: 1.13%</text><text x="138.79" y="169.800" text-anchor="end">others: 12.06%</text></g></g><g><path d="M439.00,253.60L439.00,201.10A52.5,52.5 0 0 1 479.88,220.66Z" fill="#F6472A" stroke="#F6472A" stroke-width="0.3"/><path d="M439.00,253.60L479.88,220.66A52.5,52.5 0 0 1 487.36,233.17Z" fill="#00BBD6" stroke="#00BBD6" stroke-width="0.3"/><path d="M439.00,253.60L487.36,233.17A52.5,52.5 0 0 1 491.39,257.07Z" fill="#00A185" stroke="#00A185" stroke-width="0.3"/><path d="M439.00,253.60L491.39,257.07A52.5,52.5 0 0 1 490.10,265.65Z" fill="#28548F" stroke="#28548F" stroke-width="0.3"/><path d="M439.00,253.60L490.10,265.65A52.5,52.5 0 0 1 484.95,279.00Z" fill="#FC9676" stroke="#FC9676" stroke-width="0.3"/><path d="M439.00,253.60L484.95,279.00A52.5,52.5 0 0 1 472.77,293.80Z" fill="#7E8ABA" stroke="#7E8ABA" stroke-width="0.3"/><path d="M439.00,253.60L472.77,293.80A52.5,52.5 0 0 1 455.44,303.46Z" fill="#62D3C0" stroke="#62D3C0" stroke-width="0.3"/><path d="M439.00,253.60L455.44,303.46A52.5,52.5 0 0 1 449.21,305.10Z" fill="#FA0303" stroke="#FA0303" stroke-width="0.3"/><path d="M439.00,253.60L449.21,305.10A52.5,52.5 0 0 1 438.49,306.10Z" fill="#8A5D44" stroke="#8A5D44" stroke-width="0.3"/><path d="M439.00,253.60L438.49,306.10A52.5,52.5 0 0 1 430.18,305.35Z" fill="#D2D2D2" stroke="#D2D2D2" stroke-width="0.3"/><path d="M439.00,253.60L430.18,305.35A52.5,52.5 0 0 1 422.50,303.44Z" fill="#D48F8A" stroke="#D48F8A" stroke-width="0.3"/><path d="M439.00,253.60L422.50,303.44A52.5,52.5 0 0 1 419.40,302.31Z" fill="#14B1B3" stroke="#14B1B3" stroke-width="0.3"/><path d="M439.00,253.60L419.40,302.31A52.5,52.5 0 0 1 415.58,300.59Z" fill="#10798B" stroke="#10798B" stroke-width="0.3"/><path d="M439.00,253.60L415.58,300.59A52.5,52.5 0 0 1 404.48,293.15Z" fill="#A67891" stroke="#A67891" stroke-width="0.3"/><path d="M439.00,253.60L404.48,293.15A52.5,52.5 0 0 1 401.60,290.44Z" fill="#EBA7A7" stroke="#EBA7A7" stroke-width="0.3"/><path d="M439.00,253.60L401.60,290.44A52.5,52.5 0 0 1 397.43,285.67Z" fill="#7EB0C3" stroke="#7EB0C3" stroke-width="0.3"/><path d="M439.00,253.60L397.43,285.67A52.5,52.5 0 0 1 393.76,280.23Z" fill="#EF936A" stroke="#EF936A" stroke-width="0.3"/><path d="M439.00,253.60L393.76,280.23A52.5,52.5 0 0 1 392.57,278.10Z" fill="#D4502A" stroke="#D4502A" stroke-width="0.3"/><path d="M439.00,253.60L392.57,278.10A52.5,52.5 0 0 1 391.19,275.28Z" fill="#A89189" stroke="#A89189" stroke-width="0.3"/><path d="M439.00,253.60L391.19,275.28A52.5,52.5 0 0 1 389.95,272.33Z" fill="#F59478" stroke="#F59478" stroke-width="0.3"/><path d="M439.00,253.60L389.95,272.33A52.5,52.5 0 0 1 389.26,270.40Z" fill="#F5805F" stroke="#F5805F" stroke-width="0.3"/><path d="M439.00,253.60L389.26,270.40A52.5,52.5 0 0 1 388.56,268.17Z" fill="#14B0C0" stroke="#14B0C0" stroke-width="0.3"/><path d="M439.00,253.60L388.56,268.17A52.5,52.5 0 0 1 387.83,265.32Z" fill="#0D8C80" stroke="#0D8C80" stroke-width="0.3"/><path d="M439.00,253.60L387.83,265.32A52.5,52.5 0 0 1 387.66,264.58Z" fill="#7E6AA0" stroke="#7E6AA0" stroke-width="0.3"/><path d="M439.00,253.60L387.66,264.58A52.5,52.5 0 0 1 386.69,258.09Z" fill="#E9A2A2" stroke="#E9A2A2" stroke-width="0.3"/><path d="M439.00,253.60L386.69,258.09A52.5,52.5 0 0 1 386.57,256.38Z" fill="#90A8C8" stroke="#90A8C8" stroke-width="0.3"/><path d="M439.00,253.60L386.57,256.38A52.5,52.5 0 0 1 386.56,256.08Z" fill="#D0B890" stroke="#D0B890" stroke-width="0.3"/><path d="M439.00,253.60L386.56,256.08A52.5,52.5 0 0 1 386.51,254.47Z" fill="#E8502A" stroke="#E8502A" stroke-width="0.3"/><path d="M439.00,253.60L386.51,254.47A52.5,52.5 0 0 1 386.50,253.67Z" fill="#A08070" stroke="#A08070" stroke-width="0.3"/><path d="M439.00,253.60L386.50,253.67A52.5,52.5 0 0 1 386.51,252.45Z" fill="#E8A0A0" stroke="#E8A0A0" stroke-width="0.3"/><path d="M439.00,253.60L386.51,252.45A52.5,52.5 0 0 1 386.54,251.63Z" fill="#A8C0D0" stroke="#A8C0D0" stroke-width="0.3"/><path d="M439.00,253.60L386.54,251.63A52.5,52.5 0 0 1 387.06,245.95Z" fill="#10A090" stroke="#10A090" stroke-width="0.3"/><path d="M439.00,253.60L387.06,245.95A52.5,52.5 0 0 1 387.37,244.06Z" fill="#1E6496" stroke="#1E6496" stroke-width="0.3"/><path d="M439.00,253.60L387.37,244.06A52.5,52.5 0 0 1 387.48,243.51Z" fill="#F8977D" stroke="#F8977D" stroke-width="0.3"/><path d="M439.00,253.60L387.48,243.51A52.5,52.5 0 0 1 388.24,240.19Z" fill="#A8A0C8" stroke="#A8A0C8" stroke-width="0.3"/><path d="M439.00,253.60L388.24,240.19A52.5,52.5 0 0 1 388.33,239.84Z" fill="#7DD6C4" stroke="#7DD6C4" stroke-width="0.3"/><path d="M439.00,253.60L388.33,239.84A52.5,52.5 0 0 1 388.38,239.68Z" fill="#E8401F" stroke="#E8401F" stroke-width="0.3"/><path d="M439.00,253.60L388.38,239.68A52.5,52.5 0 0 1 388.43,239.49Z" fill="#A0522D" stroke="#A0522D" stroke-width="0.3"/><path d="M439.00,253.60L388.43,239.49A52.5,52.5 0 0 1 388.44,239.46Z" fill="#CCC4BC" stroke="#CCC4BC" stroke-width="0.3"/><path d="M439.00,253.60L388.44,239.46A52.5,52.5 0 0 1 439.00,201.10Z" fill="#FD7459" stroke="#FD7459" stroke-width="0.3"/></g><g fill="none" stroke-width="0.55" stroke-opacity="0.9"><path d="M465.00,196.95Q465.00,199.27 462.05,205.43" stroke="#F6472A"/><path d="M492.10,220.45Q492.10,221.85 484.83,226.20" stroke="#00BBD6"/><path d="M500.70,244.85Q500.70,243.22 491.66,244.74" stroke="#00A185"/><path d="M500.70,264.65Q500.70,262.85 491.81,261.52" stroke="#28548F"/><path d="M497.40,276.45Q497.40,276.13 488.82,272.82" stroke="#FC9676"/><path d="M485.60,296.55Q485.60,291.94 480.24,287.53" stroke="#7E8ABA"/><path d="M481.70,300.05Q473.37,302.15 465.00,300.24" stroke="#62D3C0"/><path d="M476.90,304.45Q464.83,307.77 452.58,305.24" stroke="#FA0303"/><path d="M464.30,312.05Q444.45,312.05 443.96,306.77" stroke="#8A5D44"/><path d="M437.70,336.05Q431.62,336.05 434.24,306.79" stroke="#D2D2D2"/><path d="M432.20,332.35Q419.38,332.35 426.09,305.42" stroke="#D48F8A"/><path d="M427.20,327.95Q411.77,327.95 420.63,303.74" stroke="#14B1B3"/><path d="M426.70,324.05Q407.33,324.05 417.11,302.31" stroke="#10798B"/><path d="M426.70,319.65Q394.78,319.65 409.29,297.97" stroke="#A67891"/><path d="M421.00,316.75Q379.54,316.75 402.39,292.48" stroke="#EBA7A7"/><path d="M404.80,312.45Q398.93,301.30 398.76,288.71" stroke="#7EB0C3"/><path d="M397.10,304.45Q393.42,294.26 394.76,283.51" stroke="#EF936A"/><path d="M388.80,297.55Q388.80,281.60 392.36,279.61" stroke="#D4502A"/><path d="M386.20,288.65Q386.20,279.47 391.05,277.10" stroke="#A89189"/><path d="M381.30,279.95Q381.30,277.67 389.72,274.16" stroke="#F59478"/><path d="M371.00,272.35Q386.87,272.35 388.75,271.67" stroke="#F5805F"/><path d="M376.70,267.95Q376.70,273.11 388.04,269.56" stroke="#14B0C0"/><path d="M376.20,263.95Q376.20,269.85 387.30,266.98" stroke="#0D8C80"/><path d="M376.20,259.85Q376.20,267.51 386.86,265.15" stroke="#7E6AA0"/><path d="M376.20,256.15Q376.20,262.98 386.19,261.48" stroke="#E9A2A2"/><path d="M376.20,252.15Q376.20,257.96 385.73,257.30" stroke="#90A8C8"/><path d="M376.20,247.95Q376.20,256.75 385.67,256.28" stroke="#D0B890"/><path d="M376.70,243.95Q376.70,255.59 385.63,255.30" stroke="#E8502A"/><path d="M377.10,239.95Q377.10,254.15 385.60,254.08" stroke="#A08070"/><path d="M378.10,236.05Q378.10,252.98 385.60,253.05" stroke="#E8A0A0"/><path d="M379.00,232.35Q379.00,251.82 385.62,252.01" stroke="#A8C0D0"/><path d="M380.70,228.05Q380.70,248.22 385.83,248.70" stroke="#10A090"/><path d="M382.50,223.95Q382.50,244.22 386.32,244.85" stroke="#1E6496"/><path d="M385.20,219.95Q385.20,243.36 386.54,243.61" stroke="#F8977D"/><path d="M391.70,212.65Q385.85,226.58 386.96,241.64" stroke="#A8A0C8"/><path d="M394.70,208.45Q387.30,223.24 387.42,239.79" stroke="#7DD6C4"/><path d="M399.70,204.45Q389.38,220.52 387.49,239.53" stroke="#E8401F"/><path d="M404.70,200.45Q391.45,217.84 387.54,239.35" stroke="#A0522D"/><path d="M409.70,196.65Q393.52,215.29 387.57,239.24" stroke="#CCC4BC"/><path d="M423.90,192.95Q392.98,192.95 406.72,211.06" stroke="#FD7459"/></g><g filter="url(#tb)"><g transform="scale(1,1.15)" font-size="4.35" fill="#000" stroke="#000" stroke-width="0.09"><text x="465.70" y="172.609" text-anchor="start">Tausonia: 14.20%</text><text x="492.80" y="193.043" text-anchor="start">Gibberella: 4.43%</text><text x="501.40" y="214.261" text-anchor="start">Mortierella: 7.41%</text><text x="501.40" y="231.478" text-anchor="start">Hannaella: 2.63%</text><text x="498.10" y="241.739" text-anchor="start">Pseudombrophila: 4.35%</text><text x="486.30" y="259.217" text-anchor="start">Trichoderma: 5.84%</text><text x="482.40" y="262.261" text-anchor="start">Talaromyces: 6.05%</text><text x="477.60" y="266.087" text-anchor="start">Cladosporium: 1.95%</text><text x="465.00" y="272.696" text-anchor="start">Schizothecium: 3.27%</text><text x="437.00" y="293.565" text-anchor="end">Fusarium: 2.53%</text><text x="431.50" y="290.348" text-anchor="end">unclassified_p__Ascomycota: 2.40%</text><text x="426.50" y="286.522" text-anchor="end">Chaetomium: 1.00%</text><text x="426.00" y="283.130" text-anchor="end">Exophiala: 1.27%</text><text x="426.00" y="279.304" text-anchor="end">Pyrenochaetopsis: 4.06%</text><text x="420.30" y="276.783" text-anchor="end">Monodictys: 1.20%</text><text x="404.10" y="273.043" text-anchor="end">unclassified_k__Fungi: 1.92%</text><text x="396.40" y="266.087" text-anchor="end">Solicoccozyma: 1.99%</text><text x="388.10" y="260.087" text-anchor="end">Epicoccum: 0.74%</text><text x="385.50" y="252.348" text-anchor="end">Didymella: 0.95%</text><text x="380.60" y="244.783" text-anchor="end">Clonostachys: 0.97%</text><text x="370.30" y="238.174" text-anchor="end">Neocosmospora: 0.62%</text><text x="376.00" y="234.348" text-anchor="end">Papiliotrema: 0.71%</text><text x="375.50" y="230.870" text-anchor="end">unclassified_o__Cystofilobasidiales: 0.89%</text><text x="375.50" y="227.304" text-anchor="end">unclassified_o__Pleosporales: 0.23%</text><text x="375.50" y="224.087" text-anchor="end">unclassified_f__Sporormiaceae: 1.99%</text><text x="375.50" y="220.609" text-anchor="end">Lecanicillium: 0.52%</text><text x="375.50" y="216.957" text-anchor="end">unclassified_f__Stachybotryaceae: 0.09%</text><text x="376.00" y="213.478" text-anchor="end">Thelebolus: 0.49%</text><text x="376.40" y="210.000" text-anchor="end">Metarhizium: 0.24%</text><text x="377.40" y="206.609" text-anchor="end">Alternaria: 0.37%</text><text x="378.30" y="203.391" text-anchor="end">Cyphellophora: 0.25%</text><text x="380.00" y="199.652" text-anchor="end">unclassified_o__Glomerellales: 1.73%</text><text x="381.80" y="196.087" text-anchor="end">Penicillium: 0.58%</text><text x="384.50" y="192.609" text-anchor="end">Bullera: 0.17%</text><text x="391.00" y="186.261" text-anchor="end">unclassified_c__Sordariomycetes: 1.03%</text><text x="394.00" y="182.609" text-anchor="end">Pseudogymnoascus: 0.11%</text><text x="399.00" y="179.130" text-anchor="end">Candida: 0.05%</text><text x="404.00" y="175.652" text-anchor="end">Titaea: 0.06%</text><text x="409.00" y="172.348" text-anchor="end">Paracylindrocarpon: 0.01%</text><text x="423.20" y="169.130" text-anchor="end">others: 20.65%</text></g></g>
<g font-family="'Liberation Serif', serif" font-size="11.3" fill="#111" stroke="#111" stroke-width="0.12">
<text x="2.8" y="10.35">A</text><text x="271.8" y="10.35">B</text>
<text x="2.8" y="183.55">C</text><text x="271.0" y="183.55">D</text></g>
</svg>
</body></html>
